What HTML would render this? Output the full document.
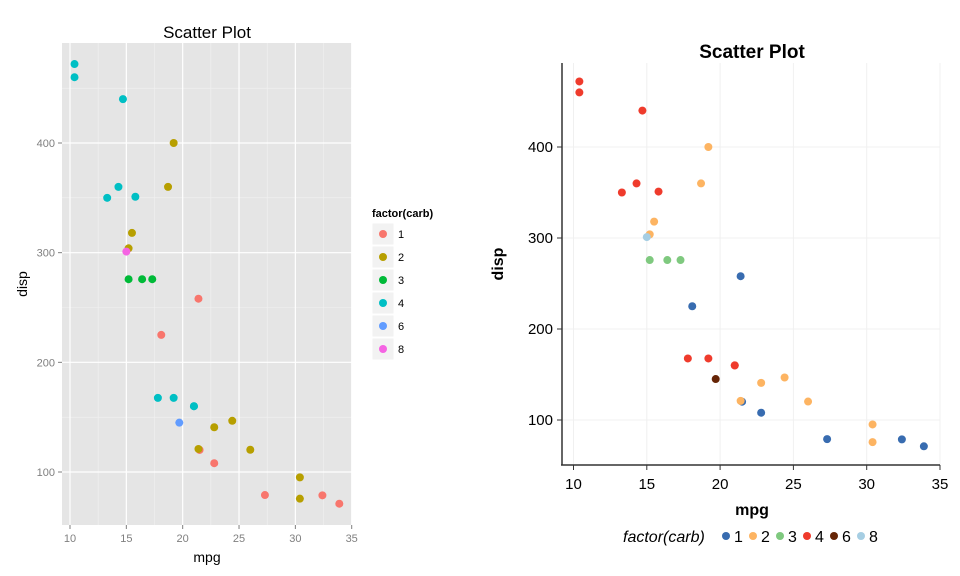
<!DOCTYPE html>
<html><head><meta charset="utf-8"><style>
body{margin:0;background:#fff;}
svg{display:block;font-family:"Liberation Sans",sans-serif;}
</style></head><body>
<svg id="c" width="960" height="576"></svg>
<script>
const mpg=[21.0,21.0,22.8,21.4,18.7,18.1,14.3,24.4,22.8,19.2,17.8,16.4,17.3,15.2,10.4,10.4,14.7,32.4,30.4,33.9,21.5,15.5,15.2,13.3,19.2,27.3,26.0,30.4,15.8,19.7,15.0,21.4];
const disp=[160,160,108,258,360,225,360,146.7,140.8,167.6,167.6,275.8,275.8,275.8,472,460,440,78.7,75.7,71.1,120.1,318,304,350,400,79,120.3,95.1,351,145,301,121];
const carb=[4,4,1,1,2,1,4,2,2,4,4,3,3,3,4,4,4,1,2,1,1,2,2,4,2,1,2,2,4,6,8,2];
const levels=[1,2,3,4,6,8];
const xTicks=[10,15,20,25,30,35];
const yTicks=[100,200,300,400];
const colL=["#F8766D","#B79F00","#00BA38","#00BFC4","#619CFF","#F564E3"];
const colR=["#386CB0","#FDB462","#7FC97F","#EF3B2C","#662506","#A6CEE3"];
const NS="http://www.w3.org/2000/svg";
const svg=document.getElementById('c');
function el(t,a,p){const e=document.createElementNS(NS,t);for(const k in a)e.setAttribute(k,a[k]);(p||svg).appendChild(e);return e;}
function tx(x,y,s,a,p){const e=el('text',Object.assign({x:x,y:y},a),p);e.textContent=s;return e;}

// LEFT PANEL
const lx=v=>70+(v-10)*(351.7-70)/25;
const ly=v=>472-(v-100)*(472-143)/300;
const gL=el('g',{});


el('rect',{x:62,y:43,width:290,height:482,fill:'#E5E5E5'},gL);
[12.5,17.5,22.5,27.5,32.5].forEach(v=>el('line',{x1:lx(v),x2:lx(v),y1:43,y2:525,stroke:'#F2F2F2','stroke-width':0.6},gL));
[150,250,350,450].forEach(v=>el('line',{x1:62,x2:352,y1:ly(v),y2:ly(v),stroke:'#F2F2F2','stroke-width':0.6},gL));
xTicks.forEach(v=>{el('line',{x1:lx(v),x2:lx(v),y1:43,y2:525,stroke:'#fff','stroke-width':1.2},gL);
 el('line',{x1:lx(v),x2:lx(v),y1:525,y2:529,stroke:'#7F7F7F'},gL);
 const t=tx(lx(v),542,v,{'text-anchor':'middle','font-size':11,fill:'#7F7F7F'},gL);
 });
yTicks.forEach(v=>{el('line',{x1:62,x2:352,y1:ly(v),y2:ly(v),stroke:'#fff','stroke-width':1.2},gL);
 el('line',{x1:58,x2:62,y1:ly(v),y2:ly(v),stroke:'#7F7F7F'},gL);
 const t=tx(55,ly(v)+4,v,{'text-anchor':'end','font-size':11,fill:'#7F7F7F'},gL);
 });
mpg.forEach((m,i)=>{const c=el('circle',{cx:lx(m),cy:ly(disp[i]),r:4,fill:colL[levels.indexOf(carb[i])]},gL);
 });
let t=tx(207,38,'Scatter Plot',{'text-anchor':'middle','font-size':17},gL);
t=tx(207,562,'mpg',{'text-anchor':'middle','font-size':14},gL);
t=tx(0,0,'disp',{'text-anchor':'middle','font-size':14,transform:'translate(27,284) rotate(-90)'},gL);
t=tx(372,217,'factor(carb)',{'font-size':11,'font-weight':'bold'},gL);
levels.forEach((l,i)=>{const y=223+i*23;
 el('rect',{x:372,y:y,width:22,height:22,fill:'#F2F2F2',stroke:'#fff'},gL);
 const c=el('circle',{cx:383,cy:y+11,r:4,fill:colL[i]},gL);
 const tt=tx(398,y+15,l,{'font-size':11},gL);});

// RIGHT PANEL
const rx=v=>573.5+(v-10)*(940-573.5)/25;
const ry=v=>420-(v-100)*(420-147)/300;
const gR=el('g',{});


xTicks.forEach(v=>{el('line',{x1:rx(v),x2:rx(v),y1:63,y2:465,stroke:'#F0F0F0','stroke-width':1},gR);
 el('line',{x1:rx(v),x2:rx(v),y1:465,y2:470,stroke:'#333'},gR);
 const t=tx(rx(v),489,v,{'text-anchor':'middle','font-size':15},gR);
 });
yTicks.forEach(v=>{el('line',{x1:562,x2:940,y1:ry(v),y2:ry(v),stroke:'#F0F0F0','stroke-width':1},gR);
 el('line',{x1:557,x2:562,y1:ry(v),y2:ry(v),stroke:'#333'},gR);
 const t=tx(553,ry(v)+5,v,{'text-anchor':'end','font-size':15},gR);
 });
el('line',{x1:562,x2:562,y1:63,y2:465.5,stroke:'#333','stroke-width':1.5},gR);
el('line',{x1:561,x2:940,y1:465,y2:465,stroke:'#333','stroke-width':1.5},gR);
mpg.forEach((m,i)=>{const c=el('circle',{cx:rx(m),cy:ry(disp[i]),r:4,fill:colR[levels.indexOf(carb[i])]},gR);
 });
t=tx(752,58,'Scatter Plot',{'text-anchor':'middle','font-size':19,'font-weight':'bold'},gR);
t=tx(752,515,'mpg',{'text-anchor':'middle','font-size':16,'font-weight':'bold'},gR);
t=tx(0,0,'disp',{'text-anchor':'middle','font-size':16,'font-weight':'bold',transform:'translate(503,264) rotate(-90)'},gR);
t=tx(623,542,'factor(carb)',{'font-size':16,'font-style':'italic'},gR);
const lxs=[726,753,780,807,834,861];
levels.forEach((l,i)=>{const c=el('circle',{cx:lxs[i],cy:536,r:4,fill:colR[i]},gR);
 const tt=tx(lxs[i]+8,542,l,{'font-size':16},gR);});
</script>
</body></html>
